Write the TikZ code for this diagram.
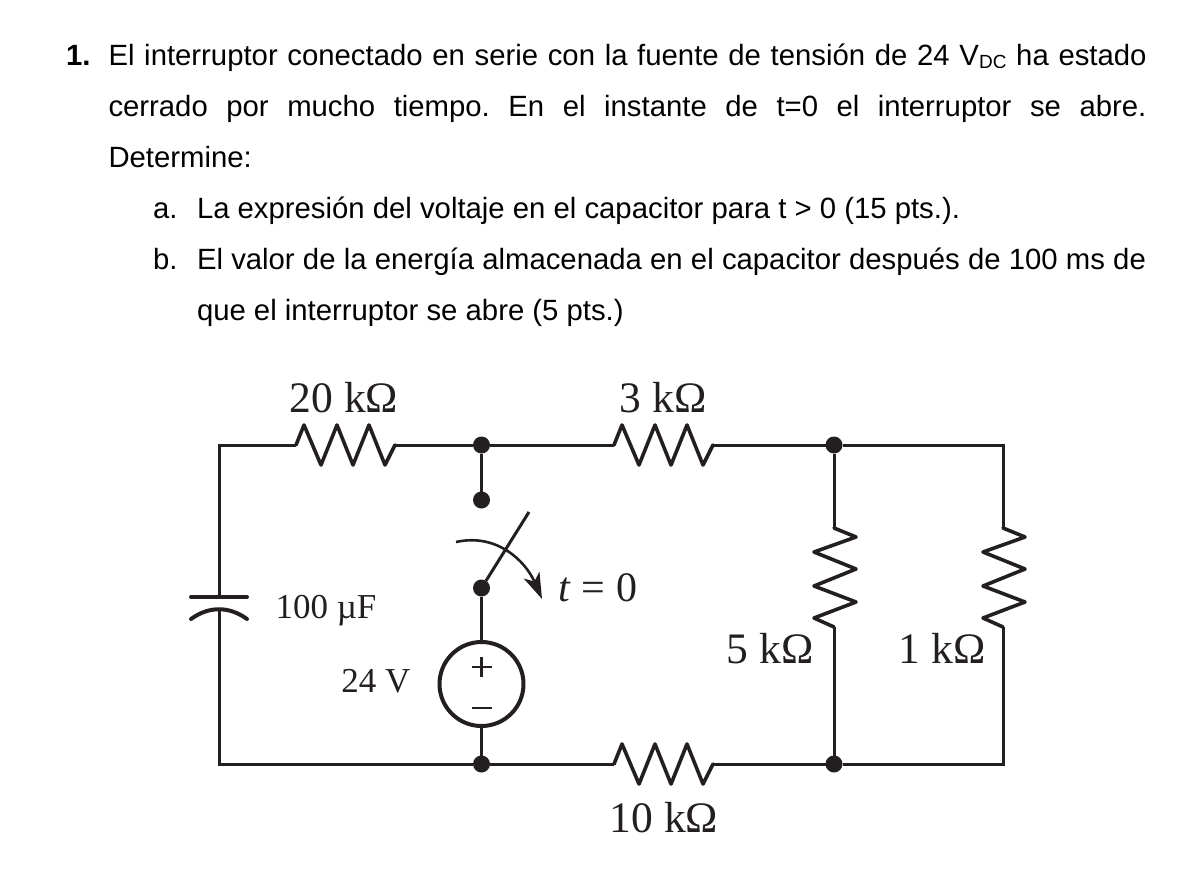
\documentclass[tikz,border=0pt]{standalone}
\usepackage{fontspec}
\setmainfont{Liberation Sans}
\newfontfamily\circfont{Liberation Serif}
\usetikzlibrary{arrows.meta}
\definecolor{ink}{HTML}{231F20}
\frenchspacing
\tikzset{
  txt/.style={anchor=base west,inner sep=0pt,outer sep=0pt,text=black,font=\fontsize{29.3}{29.3}\selectfont},
  lab/.style={anchor=base,inner sep=0pt,outer sep=0pt,text=ink,font=\circfont\fontsize{43.5}{43.5}\selectfont},
  smlab/.style={anchor=base,inner sep=0pt,outer sep=0pt,text=ink,font=\circfont\fontsize{35}{35}\selectfont},
  wire/.style={draw=ink,line width=3pt,line join=miter},
  zig/.style={draw=ink,line width=3.6pt,line join=round,line cap=round},
  dot/.style={circle,fill=ink,draw=none,minimum size=17pt,inner sep=0pt,outer sep=0pt},
  srcbox/.style={circle,draw=ink,line width=4pt,minimum size=84pt,inner sep=0pt,outer sep=0pt},
}
\newcommand{\hzig}[2]{\draw[zig] (#1) -- ++(8,-20) -- ++(17,40) -- ++(16,-40) -- ++(16,40) -- ++(16,-40) -- ++(16,40) -- (#2);}
\newcommand{\vzig}[2]{\draw[zig] (#1) -- ++(22,9) -- ++(-42,15) -- ++(42,17) -- ++(-42,17) -- ++(42,16) -- ++(-42,16) -- (#2);}
\begin{document}
\begin{tikzpicture}[x=1pt,y=-1pt]
\useasboundingbox[fill=white] (0,0) rectangle (1196,872);
% text
\node[txt,font=\bfseries\fontsize{29.3}{29.3}\selectfont] (n1) at (66,66) {1.};
\node[txt] (l1) at (108.5,66) {\makebox[1038pt][s]{El interruptor conectado en serie con la fuente de tensión de 24 V\raisebox{-3pt}{\fontsize{19}{19}\selectfont DC} ha estado}};
\node[txt] (l2) at (108.5,117) {\makebox[1038pt][s]{cerrado por mucho tiempo. En el instante de t=0 el interruptor se abre.}};
\node[txt] (l3) at (108.5,167) {Determine:};
\node[txt] (a0) at (153,218) {a.};
\node[txt] (a1) at (197,218) {La expresión del voltaje en el capacitor para t > 0 (15 pts.).};
\node[txt] (b0) at (153,269) {b.};
\node[txt] (b1) at (197,269) {\makebox[949pt][s]{El valor de la energía almacenada en el capacitor después de 100 ms de}};
\node[txt] (b2) at (197,320) {que el interruptor se abre (5 pts.)};
% points
\coordinate (tl) at (219,445);
\coordinate (bl) at (219,764);
\coordinate (tr) at (1003,445);
\coordinate (br) at (1003,764);
\coordinate (capA) at (219,597);
\coordinate (capB) at (219,610);
\coordinate (r20a) at (296,445);
\coordinate (r20b) at (395,445);
\coordinate (r3a) at (614,445);
\coordinate (r3b) at (713,445);
\coordinate (r10a) at (614,764);
\coordinate (r10b) at (713,764);
\coordinate (r5a) at (834,528);
\coordinate (r5b) at (834,627);
\coordinate (r1a) at (1003,528);
\coordinate (r1b) at (1003,627);
\coordinate (blade) at (529,512);
% junctions
\node[dot] (jt) at (481.5,445) {};
\node[dot] (jr) at (834,445) {};
\node[dot] (jb) at (481.5,764) {};
\node[dot] (jbr) at (834,764) {};
\node[dot] (sw1) at (481.5,500) {};
\node[dot] (sw2) at (481.5,588) {};
\node[srcbox] (src) at (481.5,684) {};
% wires
\draw[wire] (capA) -- (tl) -- (r20a);
\draw[wire] (r20b) -- (jt) -- (r3a);
\draw[wire] (r3b) -- (jr) -- (tr) -- (r1a);
\draw[wire] (capB) -- (bl) -- (jb) -- (r10a);
\draw[wire] (r10b) -- (jbr) -- (br) -- (r1b);
\draw[wire] (jr) -- (r5a);
\draw[wire] (r5b) -- (jbr);
\draw[wire] (jt) -- (sw1);
\draw[wire] (sw2) -- (src);
\draw[wire] (src) -- (jb);
\draw[wire] (sw2) -- (blade);
% resistors
\hzig{r20a}{r20b}
\hzig{r3a}{r3b}
\hzig{r10a}{r10b}
\vzig{r5a}{r5b}
\vzig{r1a}{r1b}
% capacitor
\coordinate (capL) at (191,597);
\coordinate (capR) at (247,597);
\coordinate (cap2L) at (191,619);
\coordinate (cap2R) at (247,619);
\draw[zig,line width=4pt] (capL) -- (capR);
\draw[zig,line width=4pt] (cap2L) .. controls (209,606) and (229,606) .. (cap2R);
% source signs
\draw[ink,line width=2.6pt] (481.5,657) -- (481.5,677) (471.5,667) -- (491.5,667);
\draw[ink,line width=2.6pt] (471.5,708) -- (491.5,708);
% switch arrow
\coordinate (arcA) at (456,542);
\coordinate (arcB) at (542,599);
\draw[draw=ink,line width=2.6pt,-{Stealth[length=26pt,width=17pt,inset=7pt]}] (arcA) .. controls (496,533) and (525,560) .. (arcB);
% labels
\node[lab] (t20) at (344,412) {20 k\symbol{"03A9}};
\node[lab] (t3) at (663,412) {3 k\symbol{"03A9}};
\node[lab] (t10) at (664,832) {10 k\symbol{"03A9}};
\node[lab] (t5) at (770,663) {5 k\symbol{"03A9}};
\node[lab] (t1) at (942,663) {1 k\symbol{"03A9}};
\node[lab,font=\circfont\fontsize{42}{42}\selectfont] (tt) at (598,601) {\textit{t} = 0};
\node[smlab] (tc) at (326,618) {100 µF};
\node[smlab] (tv) at (376,692) {24 V};
\end{tikzpicture}
\end{document}
